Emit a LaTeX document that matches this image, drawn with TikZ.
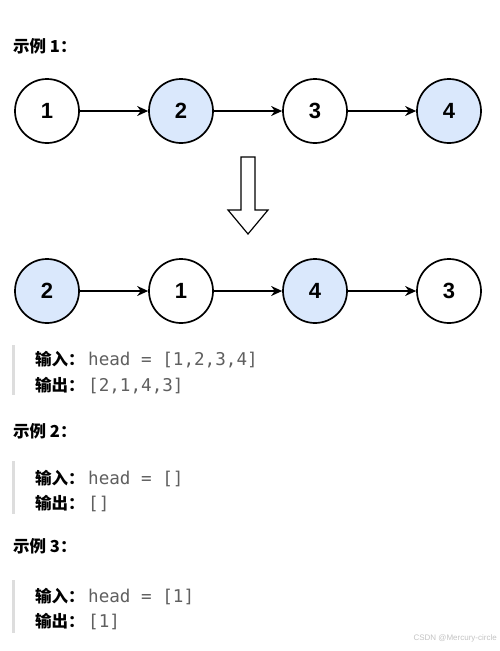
\documentclass[tikz,border=0pt]{standalone}
\usepackage{fontspec}
\setmainfont{Liberation Sans}
\setmonofont{DejaVu Sans Mono}
\newfontfamily\cjk{Noto Sans CJK SC}
\usetikzlibrary{arrows.meta}
\definecolor{nodeblue}{RGB}{218,232,252}
\definecolor{codegray}{RGB}{95,95,95}
\definecolor{quotebar}{RGB}{221,221,221}
\definecolor{marklight}{RGB}{195,195,195}
\tikzset{
  listnode/.style={circle,draw=black,line width=1.7pt,minimum size=64pt,
    inner sep=0pt,font=\fontsize{22}{22}\selectfont\bfseries},
  swapnode/.style={listnode,fill=nodeblue},
  nextlink/.style={-{Stealth[length=11pt,width=10pt]},line width=1.5pt},
  heading/.style={anchor=base west,inner sep=0pt,
    font=\cjk\fontsize{16.5}{16.5}\selectfont\bfseries},
  codetext/.style={anchor=base west,inner sep=0pt,text=codegray,
    font=\ttfamily\fontsize{17.6}{17.6}\selectfont},
}
\begin{document}
\begin{tikzpicture}[x=1pt,y=-1pt]
  \useasboundingbox (0,0) rectangle (500,651);

  % example 1: before and after
  \node[heading] (ex1) at (13,52) {示例 1：};
  \node[listnode] (a1) at (47,111) {1};
  \node[swapnode] (a2) at (181,111) {2};
  \node[listnode] (a3) at (315,111) {3};
  \node[swapnode] (a4) at (449,111) {4};
  \node[swapnode] (b1) at (47,291) {2};
  \node[listnode] (b2) at (181,291) {1};
  \node[swapnode] (b3) at (315,291) {4};
  \node[listnode] (b4) at (449,291) {3};
  \foreach \s/\t in {a1/a2,a2/a3,a3/a4,b1/b2,b2/b3,b3/b4}
    \draw[nextlink] (\s) -- (\t);

  % hollow down arrow
  \draw[line width=1.2pt,line join=miter,fill=white]
    (241,157) -- (255,157) -- (255,210) -- (268,210) -- (248,234)
    -- (228,210) -- (241,210) -- cycle;

  \fill[quotebar] (12,345) rectangle (15,395);
  \node[heading] (in1) at (35,365) {输入：};
  \node[codetext] (in1code) at (88,365) {head = [1,2,3,4]};
  \node[heading] (out1) at (35,391) {输出：};
  \node[codetext] (out1code) at (88,391) {[2,1,4,3]};

  % example 2
  \node[heading] (ex2) at (13,437) {示例 2：};
  \fill[quotebar] (12,461) rectangle (15,514);
  \node[heading] (in2) at (35,484) {输入：};
  \node[codetext] (in2code) at (88,484) {head = []};
  \node[heading] (out2) at (35,509) {输出：};
  \node[codetext] (out2code) at (88,509) {[]};

  % example 3
  \node[heading] (ex3) at (13,552) {示例 3：};
  \fill[quotebar] (12,580) rectangle (15,633);
  \node[heading] (in3) at (35,602) {输入：};
  \node[codetext] (in3code) at (88,602) {head = [1]};
  \node[heading] (out3) at (35,627) {输出：};
  \node[codetext] (out3code) at (88,627) {[1]};

  \node[anchor=east,inner sep=0pt,text=marklight,font=\fontsize{8}{8}\selectfont]
    (mark) at (497,638) {CSDN @Mercury-circle};
\end{tikzpicture}
\end{document}
